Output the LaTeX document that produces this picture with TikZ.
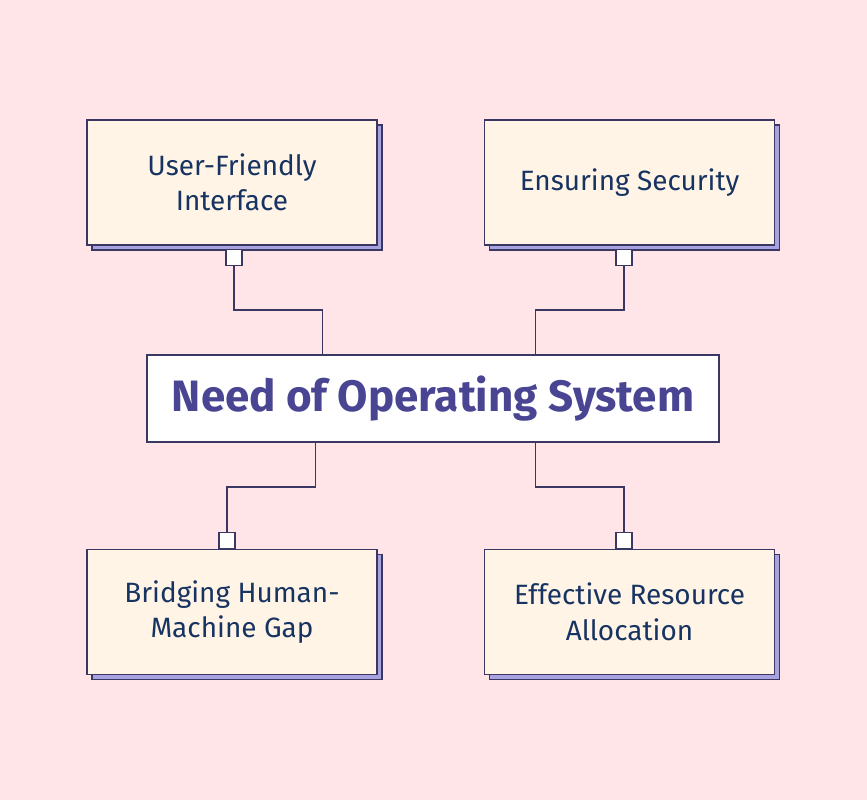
\documentclass[tikz,border=0pt]{standalone}
\usepackage{fontspec}
\setmainfont{Fira Sans}
\usetikzlibrary{positioning,shadows,calc}
\definecolor{bgpink}{HTML}{FFE4E8}
\definecolor{boxcream}{HTML}{FFF4E6}
\definecolor{edgenavy}{HTML}{3B3763}
\definecolor{shadelav}{HTML}{A8A3E0}
\definecolor{textnavy}{HTML}{173361}
\definecolor{titlepurple}{HTML}{4A4592}
\begin{document}
\begin{tikzpicture}[
  needbox/.style={draw=edgenavy,line width=0.7pt,fill=boxcream,
    minimum width=5.8cm,minimum height=2.5cm,align=center,text=textnavy,
    font=\fontsize{15.9}{20.2}\selectfont,
    general shadow={fill=shadelav,draw=edgenavy,line width=0.7pt,
      shadow xshift=0.1cm,shadow yshift=-0.1cm}},
  titlebox/.style={draw=edgenavy,line width=0.7pt,fill=white,inner sep=0pt,
    minimum width=11.44cm,minimum height=1.74cm,text=titlepurple,
    font=\fontsize{25}{30}\selectfont\bfseries},
  pin/.style={draw=edgenavy,line width=0.7pt,fill=white,
    minimum size=0.32cm,inner sep=0pt},
  wire/.style={draw=edgenavy,line width=0.8pt}]
% background
\fill[bgpink] (0,0) rectangle (17.34,16);
% boxes
\node[needbox] (ufi) at (4.64,12.35) {User-Friendly\\Interface};
\node[needbox] (sec) at (12.59,12.35) {Ensuring Security};
\node[titlebox] (need) at (8.66,8.03) {Need of Operating System};
\node[needbox] (bhm) at (4.64,3.76) {Bridging Human-\\Machine Gap};
\node[needbox] (era) at (12.59,3.76) {Effective Resource\\Allocation};
% connector pins
\node[pin,below=0.06cm of ufi,xshift=0.04cm] (pufi) {};
\node[pin,below=0.06cm of sec,xshift=-0.11cm] (psec) {};
\node[pin,above=0cm of bhm,xshift=-0.1cm] (pbhm) {};
\node[pin,above=0cm of era,xshift=-0.11cm] (pera) {};
\coordinate (nufi) at ($(need.north west)+(3.52,0)$);
\coordinate (nsec) at ($(need.north west)+(7.78,0)$);
\coordinate (nbhm) at ($(need.south west)+(3.38,0)$);
\coordinate (nera) at ($(need.south west)+(7.78,0)$);
% connectors
\draw[wire] (pufi.south) |- ($(pufi.south)!0.5!(nufi)$) -| (nufi);
\draw[wire] (psec.south) |- ($(psec.south)!0.5!(nsec)$) -| (nsec);
\draw[wire] (nbhm) |- ($(nbhm)!0.5!(pbhm.north)$) -| (pbhm.north);
\draw[wire] (nera) |- ($(nera)!0.5!(pera.north)$) -| (pera.north);
\end{tikzpicture}
\end{document}
